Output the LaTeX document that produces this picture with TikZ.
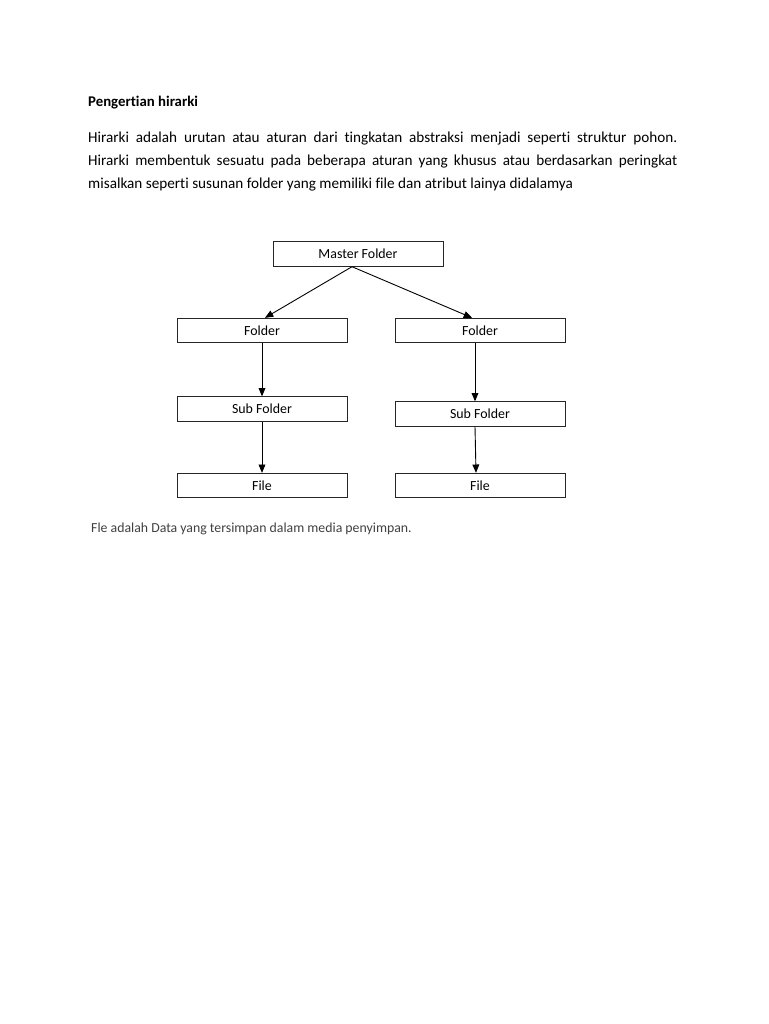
\documentclass[tikz,border=0pt]{standalone}
\usepackage{fontspec}
\setmainfont{Carlito}[Ligatures=NoCommon]
\usetikzlibrary{arrows}
\usetikzlibrary{calc}

\tikzset{
	box/.style={draw=black!85,line width=0.9pt,minimum width=170pt,minimum height=24.5pt,inner sep=0pt,font=\fontsize{13.9}{15}\selectfont},
	link/.style={-triangle 45,line width=0.9pt}
}

\begin{document}
\begin{tikzpicture}[x=1pt,y=-1pt]
		\useasboundingbox[fill=white] (0,0) rectangle (768,1024);
		% texte
		\node[anchor=base west,inner sep=0pt,font=\fontsize{14.8}{17}\selectfont\bfseries] (titre) at (88,107) {Pengertian hirarki};
		\node[anchor=north west,inner sep=0pt,text width=589pt,align=justify,font=\fontsize{15.2}{23}\selectfont] (para) at (88,131.5) {Hirarki adalah urutan atau aturan dari tingkatan abstraksi menjadi seperti struktur pohon.\linebreak Hirarki membentuk sesuatu pada beberapa aturan yang khusus atau berdasarkan peringkat\linebreak misalkan seperti susunan folder yang memiliki file dan atribut lainya didalamya};
		% arbre
		\node[box] (mf) at (358,254) {Master Folder};
		\node[box] (lf) at (262,330.5) {Folder};
		\node[box] (rf) at (480,330.5) {Folder};
		\node[box] (ls) at (262,409) {Sub Folder};
		\node[box] (rs) at (480,414) {Sub Folder};
		\node[box] (lfile) at (262,485.5) {File};
		\node[box] (rfile) at (480,485.5) {File};
		\draw[link] ([xshift=-6pt]mf.south) -- ([xshift=3pt]lf.north);
		\draw[link] ([xshift=-6pt]mf.south) -- ([xshift=-8pt]rf.north);
		\draw[link] (lf) -- (ls);
		\draw[link] (ls) -- (lfile);
		\draw[link] ([xshift=-5pt]rf.south) -- ([xshift=-5pt]rs.north);
		\draw[link] ([xshift=-5pt]rs.south) -- ([xshift=-4pt]rfile.north);
		\node[anchor=base west,inner sep=0pt,text=black!75,font=\fontsize{13.8}{15}\selectfont] (note) at (91,532) {Fle adalah Data yang tersimpan dalam media penyimpan.};
	\end{tikzpicture}
\end{document}
